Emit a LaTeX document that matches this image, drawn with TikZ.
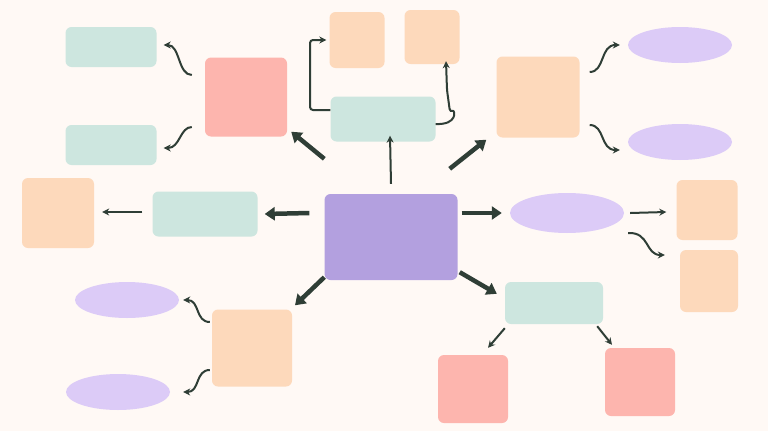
\documentclass[tikz,border=0pt]{standalone}
\usetikzlibrary{arrows.meta,calc,shapes.geometric}
\definecolor{bg}{HTML}{FFF9F5}
\definecolor{cpur}{HTML}{B3A0DF}
\definecolor{cmint}{HTML}{CDE6DF}
\definecolor{cpeach}{HTML}{FDD9BB}
\definecolor{cpink}{HTML}{FDB5AE}
\definecolor{clav}{HTML}{DCCBF7}
\definecolor{cdark}{HTML}{2F3E36}
\tikzset{
 box/.style={rounded corners=6pt,inner sep=0pt},
 oval/.style={ellipse,inner sep=0pt},
 big/.style={draw=cdark,line width=4.5pt,-{Triangle[length=10pt,width=13pt]}},
 thin/.style={draw=cdark,line width=2pt,-{Stealth[length=7pt,width=7pt]},rounded corners=3pt},
}
\newcommand{\bx}[6]{\node[box,fill=#2,minimum width=#5pt,minimum height=#6pt] (#1) at (#3,#4) {};}
\begin{document}
\begin{tikzpicture}[x=1pt,y=-1pt]
\fill[bg] (0,0) rectangle (768,431);
\useasboundingbox (0,0) rectangle (768,431);
\bx{c}{cpur}{391}{237}{133}{86}
\bx{mt}{cmint}{383}{119}{105}{45}
\bx{pt1}{cpeach}{357}{40}{55}{56}
\bx{pt2}{cpeach}{432}{37}{55}{54}
\bx{pk1}{cpink}{246}{97}{82}{79}
\bx{ml1}{cmint}{111}{47}{91}{40}
\bx{ml2}{cmint}{111}{145}{91}{40}
\bx{ptr}{cpeach}{538}{97}{83}{81}
\bx{ml}{cmint}{205}{214}{105}{45}
\bx{pfl}{cpeach}{58}{213}{72}{70}
\bx{pr1}{cpeach}{707}{210}{61}{60}
\bx{pr2}{cpeach}{709}{281}{58}{62}
\bx{mr}{cmint}{554}{303}{98}{42}
\bx{pb1}{cpink}{473}{389}{70}{68}
\bx{pb2}{cpink}{640}{382}{70}{68}
\bx{pl}{cpeach}{252}{348}{80}{77}
\node[oval,fill=clav,minimum width=104pt,minimum height=36pt] (e1) at (680,45) {};
\node[oval,fill=clav,minimum width=104pt,minimum height=36pt] (e2) at (680,142) {};
\node[oval,fill=clav,minimum width=114pt,minimum height=40pt] (em) at (567,213) {};
\node[oval,fill=clav,minimum width=104pt,minimum height=36pt] (e3) at (127,300) {};
\node[oval,fill=clav,minimum width=104pt,minimum height=36pt] (e4) at (118,392) {};
\draw[big] ($(c.west)+(-15,-24)$) -- ($(ml.east)+(7,0)$);
\draw[big] ($(c.north west)+(0,-35)$) -- ($(pk1.south east)+(4,-5)$);
\draw[big] ($(c.north east)+(-8,-25)$) -- ($(ptr.south west)+(-10,2)$);
\draw[big] ($(c.east)+(4,-24)$) -- ($(em.west)+(-8,0)$);
\draw[big] ($(c.south east)+(2,-8)$) -- ($(mr.north west)+(-8,12)$);
\draw[big] ($(c.south west)+(0,-3)$) -- ($(pl.north)+(43,-4)$);
\draw[thin] ($(c.north)+(0,-10)$) -- ($(mt.south)+(7,-6)$);
\draw[thin] ($(ml.west)+(-10,-2)$) -- ($(pfl.east)+(8,-1)$);
\draw[thin] ($(pk1.west)+(-13,-22)$) .. controls (178,75) and (180,45) .. ($(ml1.east)+(7,-2)$);
\draw[thin] ($(pk1.west)+(-13,30)$) .. controls (180,127) and (180,148) .. ($(ml2.east)+(7,3)$);
\draw[thin] ($(mt.west)+(0,-9)$) -- (310,110) -- (310,40) -- ($(pt1.west)+(-3,0)$);
\draw[thin] ($(mt.east)+(0,5)$) .. controls (458,125) and (455,110) .. (450,112) -- (447,90) -- ($(pt2.south)+(14,-3)$);
\draw[thin] ($(ptr.east)+(10,-25)$) .. controls (605,72) and (600,45) .. ($(e1.west)+(-8,0)$);
\draw[thin] ($(ptr.east)+(10,28)$) .. controls (605,125) and (600,150) .. ($(e2.west)+(-8,8)$);
\draw[thin] ($(em.east)+(6,0)$) -- ($(pr1.west)+(-10,2)$);
\draw[thin] ($(em.east)+(4,20)$) .. controls (650,232) and (645,255) .. ($(pr2.west)+(-15,-26)$);
\draw[thin] ($(mr.south west)+(0,4)$) -- ($(pb1.north)+(15,-7)$);
\draw[thin] ($(mr.south east)+(-6,2)$) -- ($(pb2.north)+(-28,-3)$);
\draw[thin] ($(pl.west)+(-2,-26)$) .. controls (195,322) and (200,300) .. ($(e3.east)+(4,0)$);
\draw[thin] ($(pl.west)+(-2,22)$) .. controls (195,370) and (200,392) .. ($(e4.east)+(13,0)$);
\end{tikzpicture}
\end{document}
